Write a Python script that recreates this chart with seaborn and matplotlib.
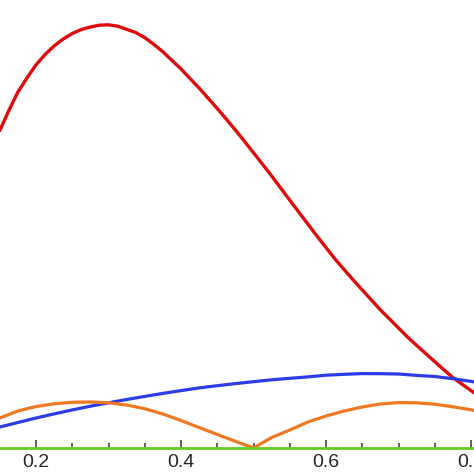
import numpy as np
import pandas as pd
import seaborn as sns
import matplotlib
matplotlib.use("Agg")
import matplotlib.pyplot as plt
from matplotlib.ticker import MultipleLocator

# ---- data ----
x_red = [0.15, 0.1625, 0.175, 0.1875, 0.2, 0.2125, 0.225, 0.2375, 0.25, 0.2625,
         0.275, 0.2875, 0.3, 0.3125, 0.325, 0.3375, 0.35, 0.3625, 0.375, 0.3875,
         0.4, 0.4125, 0.425, 0.4375, 0.45, 0.4625, 0.475, 0.4875, 0.5, 0.5125,
         0.525, 0.5375, 0.55, 0.5625, 0.575, 0.5875, 0.6, 0.6125, 0.625, 0.6375,
         0.65, 0.6625, 0.675, 0.6875, 0.7, 0.7125, 0.725, 0.7375, 0.75, 0.7625,
         0.775, 0.7875, 0.8, 0.8125]
red = [3.175, 3.375, 3.56, 3.70, 3.832, 3.935, 4.021, 4.09, 4.145, 4.185,
       4.21, 4.228, 4.232, 4.218, 4.187, 4.155, 4.104, 4.036, 3.962, 3.876,
       3.79, 3.694, 3.599, 3.497, 3.395, 3.288, 3.179, 3.067, 2.952, 2.837,
       2.72, 2.599, 2.478, 2.358, 2.239, 2.119, 2.004, 1.889, 1.784, 1.68,
       1.58, 1.481, 1.381, 1.291, 1.20, 1.109, 1.026, 0.944, 0.863, 0.782,
       0.704, 0.639, 0.574, 0.513]

x = [0.15, 0.175, 0.2, 0.225, 0.25, 0.275, 0.3, 0.325, 0.35, 0.375, 0.4,
     0.425, 0.45, 0.475, 0.5, 0.525, 0.55, 0.575, 0.6, 0.625, 0.65, 0.675,
     0.7, 0.725, 0.75, 0.775, 0.8, 0.825]
blue = [0.21, 0.255, 0.30, 0.341, 0.381, 0.418, 0.452, 0.485, 0.516, 0.546, 0.574,
        0.601, 0.623, 0.644, 0.663, 0.682, 0.697, 0.711, 0.728, 0.737, 0.744, 0.743,
        0.74, 0.726, 0.715, 0.693, 0.666, 0.635]
orange = [0.30, 0.37, 0.415, 0.442, 0.457, 0.46, 0.452, 0.43, 0.393, 0.34, 0.275,
          0.205, 0.135, 0.067, 0.0, 0.105, 0.18, 0.26, 0.32, 0.37, 0.41, 0.44,
          0.454, 0.452, 0.438, 0.412, 0.382, 0.34]
green = [0.0] * len(x)

tick_values = [0.2, 0.4, 0.6, 0.8]
tick_labels = ["0.2", "0.4", "0.6", "0.8"]

# ---- style ----
sns.set_style("white")
plt.rcParams['font.family'] = ['Liberation Sans', 'DejaVu Sans']

fig = plt.figure(figsize=(4.74, 4.74), dpi=100)
ax = fig.add_axes([0, 26 / 474, 1, 448 / 474])

kw = dict(sort=False, solid_capstyle="round", solid_joinstyle="round")
sns.lineplot(x=x_red, y=red, ax=ax, color="#e00a0a", linewidth=2.4, **kw)
sns.lineplot(x=x, y=blue, ax=ax, color="#2a3ce6", linewidth=2.3, **kw)
sns.lineplot(x=x, y=orange, ax=ax, color="#f07820", linewidth=2.3, **kw)
sns.lineplot(x=x, y=green, ax=ax, color="#66cc22", linewidth=2.0,
             clip_on=False, zorder=3, **kw)

ax.set_xlim(0.1503, 0.8041)
ax.set_ylim(0, 4.48)

ax.set_xticks(tick_values)
ax.set_xticklabels(tick_labels)
ax.xaxis.set_minor_locator(MultipleLocator(0.05))
ax.tick_params(axis='x', which='major', direction='in', length=6, width=1.1,
               color='#333333', labelsize=14, pad=4, bottom=True)
ax.tick_params(axis='x', which='minor', direction='in', length=3.5, width=1.1,
               color='#333333', bottom=True)
ax.set_yticks([])
for s in ax.spines.values():
    s.set_visible(False)
ax.set_xlabel("")
ax.set_ylabel("")

fig.savefig("out.png", dpi=100)
